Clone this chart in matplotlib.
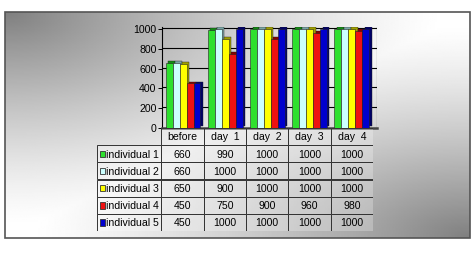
import matplotlib.pyplot as plt
import numpy as np
from matplotlib.patches import Rectangle

plt.rcParams['font.family'] = ['Liberation Sans', 'DejaVu Sans']

days = ['before', 'day  1', 'day  2', 'day  3', 'day  4']
names = ['individual 1', 'individual 2', 'individual 3', 'individual 4', 'individual 5']
ind1 = [660, 990, 1000, 1000, 1000]
ind2 = [660, 1000, 1000, 1000, 1000]
ind3 = [650, 900, 1000, 1000, 1000]
ind4 = [450, 750, 900, 960, 980]
ind5 = [450, 1000, 1000, 1000, 1000]
series = [ind1, ind2, ind3, ind4, ind5]

colors = ['#2ee02e', '#ccffff', '#ffff00', '#ee1111', '#0000cc']
darks = ['#138a13', '#7aa5a5', '#a0a000', '#850000', '#000066']

W, H = 474, 259
fig = plt.figure(figsize=(W / 100, H / 100), dpi=100)

# background gradient (dark top-left and bottom-right corners)
bg = fig.add_axes([0, 0, 1, 1])
bg.set_xlim(0, W)
bg.set_ylim(H, 0)
bg.axis('off')
fx0, fx1, fy0, fy1 = 5, 470, 12, 238
xx, yy = np.meshgrid(np.linspace(0, 1, 300), np.linspace(0, 1, 200))
r1 = np.sqrt(xx ** 2 + yy ** 2) / 0.95
r2 = np.sqrt((1 - xx) ** 2 + (1 - yy) ** 2) / 0.95
f = np.maximum(np.clip(1 - r1, 0, 1), np.clip(1 - r2, 0, 1)) ** 1.3
img = 1 - 0.5 * f
bg.imshow(img, cmap='gray', vmin=0, vmax=1, extent=[fx0, fx1, fy1, fy0], aspect='auto')
bg.add_patch(Rectangle((fx0, fy0), fx1 - fx0, fy1 - fy0, fill=False, ec='#555555', lw=1.2))

# bar chart
ax = fig.add_axes([162 / W, (H - 128) / H, (377 - 162) / W, (128 - 27) / H])
ax.patch.set_alpha(0)
x = np.arange(len(days))
bw = 0.165
dx, dy = 0.06, 18
for i, vals in enumerate(series):
    off = (i - 2) * bw
    ax.bar(x + off + dx, vals, width=bw, bottom=dy, color=darks[i], edgecolor='#222222', lw=0.3, zorder=3)
    ax.bar(x + off, vals, width=bw, color=colors[i], edgecolor='#222222', lw=0.4, zorder=3)
ax.set_xlim(-0.5, 4.6)
ax.set_ylim(0, 1020)
ax.set_yticks([0, 200, 400, 600, 800, 1000])
for t in [200, 400, 600, 800, 1000]:
    ax.axhline(t + 10, color='black', lw=0.8, zorder=1)
ax.axvline(4.6, color='black', lw=0.8)
ax.tick_params(axis='y', length=3, width=0.7, labelsize=7.6, pad=1)
ax.set_xticks([])
for s in ['top', 'right']:
    ax.spines[s].set_visible(False)
ax.spines['left'].set_linewidth(0.8)
ax.spines['bottom'].set_linewidth(1.8)
ax.spines['bottom'].set_color('#444444')

# data table
fs = 7.6
tax = fig.add_axes([97 / W, (H - 231) / H, (373 - 97) / W, (231 - 128) / H])
tax.set_xlim(-2.02, 4.5)
tax.set_ylim(6, 0)
tax.axis('off')
for j, d in enumerate(days):
    tax.add_patch(Rectangle((j - 0.5, 0), 1, 1, fc='white', alpha=0.25, ec='none'))
    tax.add_patch(Rectangle((j - 0.5, 0), 1, 1, fill=False, ec='#333333', lw=0.7))
    tax.text(j, 0.55, d, ha='center', va='center', fontsize=fs)
for i, vals in enumerate(series):
    row = i + 1
    tax.add_patch(Rectangle((-2.02, row), 1.52, 1, fc='white', alpha=0.25, ec='none'))
    tax.add_patch(Rectangle((-2.02, row), 1.52, 1, fill=False, ec='#333333', lw=0.7))
    tax.add_patch(Rectangle((-1.96, row + 0.33), 0.13, 0.36, fc=colors[i], ec='#333333', lw=0.6))
    tax.text(-1.8, row + 0.55, names[i], ha='left', va='center', fontsize=fs)
    for j, v in enumerate(vals):
        tax.add_patch(Rectangle((j - 0.5, row), 1, 1, fc='white', alpha=0.25, ec='none'))
        tax.add_patch(Rectangle((j - 0.5, row), 1, 1, fill=False, ec='#333333', lw=0.7))
        tax.text(j, row + 0.55, str(v), ha='center', va='center', fontsize=fs)

fig.savefig('out.png', dpi=100)
